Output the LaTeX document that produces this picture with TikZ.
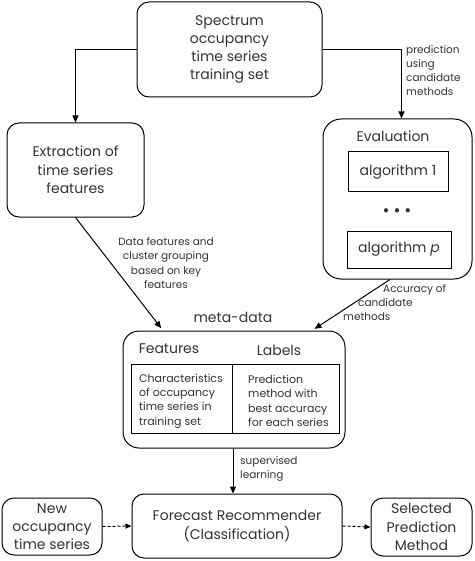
\documentclass[tikz,border=0pt]{standalone}
\usepackage{fontspec}
\setmainfont{Poppins}
\usetikzlibrary{arrows.meta}
\definecolor{txt}{HTML}{333333}
\tikzset{
  box/.style={draw=black, line width=1pt, rounded corners=12pt, text=txt, align=center, inner sep=0pt},
  sqbox/.style={draw=black, line width=1pt, text=txt, inner sep=0pt},
  big/.style={font=\fontsize{14}{18.3}\selectfont},
  small/.style={font=\fontsize{10.5}{14.2}\selectfont, text=txt, inner sep=0pt},
  arr/.style={line width=1pt, -{Triangle[length=7pt,width=6pt]}},
  darr/.style={line width=1pt, dashed, dash pattern=on 3pt off 2pt, -{Triangle[length=6pt,width=5pt]}}
}
\begin{document}
\begin{tikzpicture}[x=1pt,y=-1pt]
\useasboundingbox (0,0) rectangle (474,561);
% boxes
\node[box, big, minimum width=185, minimum height=95] (top) at (229.5,49.5) {Spectrum\\occupancy\\time series\\training set};
\node[box, big, minimum width=137, minimum height=94] (extr) at (75.5,170) {Extraction of\\time series\\features};
\node[box, minimum width=149, minimum height=160, rounded corners=18pt] (eval) at (397.5,199) {};
\node[big, text=txt] (evaltitle) at (393,136) {Evaluation};
\node[sqbox, big, minimum width=100, minimum height=40] (alg1) at (398,172) {algorithm 1};
\node[font=\fontsize{11}{12}\selectfont, text=txt] (dots) at (397,211) {$\bullet$\,\,\,$\bullet$\,\,\,$\bullet$};
\node[sqbox, big, minimum width=104, minimum height=37] (algp) at (399,249.5) {algorithm \textit{p}};
\node[box, minimum width=222, minimum height=117, rounded corners=16pt] (meta) at (234,389.5) {};
\node[big, text=txt] (metatitle) at (233,317) {meta-data};
\node[big, text=txt] (feat) at (169,349) {Features};
\node[big, text=txt] (lab) at (279,350) {Labels};
\node[sqbox, minimum width=101, minimum height=69] (cellL) at (181.5,398.5) {};
\node[sqbox, minimum width=107, minimum height=69] (cellR) at (285.5,398.5) {};
\node[small, font=\fontsize{11}{14.3}\selectfont, align=left, anchor=west] (txtL) at (139,401) {Characteristics\\of occupancy\\time series in\\training set};
\node[small, font=\fontsize{11}{14.3}\selectfont, align=left, anchor=west] (txtR) at (248,401) {Prediction\\method with\\best accuracy\\for each series};
\node[box, big, minimum width=210, minimum height=64] (fore) at (237,526) {Forecast Recommender\\(Classification)};
\node[box, big, minimum width=100, minimum height=57] (new) at (52,526.5) {New\\occupancy\\time series};
\node[box, big, minimum width=101, minimum height=58] (sel) at (421.5,527) {Selected\\Prediction\\Method};
% labels
\node[small, align=left, anchor=north west] (l1) at (406,45) {prediction\\using\\candidate\\methods};
\node[small, align=center] (l2) at (166,263) {Data features and\\cluster grouping\\based on key\\features};
\node[small, align=left, anchor=north west] (l3) at (343,284) {\hspace*{40pt}Accuracy of\\\hspace*{15pt}candidate\\methods};
\node[small, align=left, anchor=north west] (l4) at (240,456) {supervised\\learning};
% connectors
\draw[arr] (top.west) -| (extr.north);
\draw[arr] (top.east) -| ([xshift=4pt]eval.north);
\draw[arr, shorten >=3pt] (extr.south) -- ([xshift=-71pt]meta.north);
\draw[arr, shorten >=3pt] ([xshift=-7.5pt]eval.south) -- ([xshift=78pt]meta.north);
\draw[arr] (meta.south -| 233,0) -- (fore.north -| 233,0);
\draw[darr] (new.east) -- (fore.west);
\draw[darr] (fore.east) -- (sel.west);
\end{tikzpicture}
\end{document}
